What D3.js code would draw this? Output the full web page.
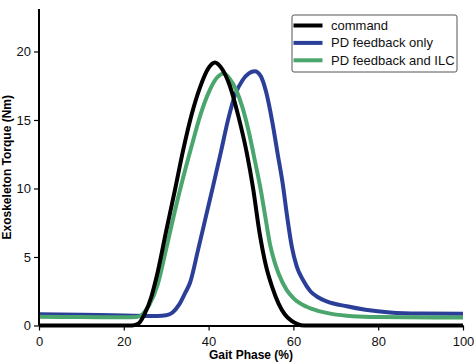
<!DOCTYPE html>
<html>
<head>
<meta charset="utf-8">
<script src="https://cdn.jsdelivr.net/npm/d3@7"></script>
<style>
  body { margin: 0; background: #fff; }
  text { font-family: "Liberation Sans", Arial, sans-serif; }
</style>
</head>
<body>
<svg id="chart" width="474" height="362"></svg>
<script>
// values: [gait phase %, torque Nm]
const command = [[0,0],[22,0],[23.5,0.15],[25,0.9],[26.5,2.1],[28,3.9],[30,6.9],[32,9.8],[34,12.8],[36,15.4],[38,17.4],[40,18.8],[41.5,19.2],[43,18.8],[45,17.5],[47,15.3],[49,12.6],[50.5,10.0],[52,6.8],[53.5,4.4],[55,2.8],[56.5,1.6],[58,0.8],[59.5,0.35],[61,0.1],[62.5,0],[100,0]];
const pdOnly = [[0,0.83],[10,0.78],[20,0.73],[28,0.7],[30,0.75],[31.5,0.95],[33,1.5],[34.5,2.4],[35.6,3.1],[37.5,5.5],[39.4,8.0],[41,10.1],[43,12.8],[44.5,14.9],[46.2,16.8],[48,17.9],[49.5,18.4],[50.9,18.55],[52.3,18.2],[53.6,17.0],[55,14.9],[56.3,12.5],[57.5,10.3],[58.5,8.0],[59.6,5.8],[60.8,4.3],[62.3,3.3],[64,2.5],[65.6,2.1],[68,1.75],[72.6,1.4],[77,1.15],[82.8,0.95],[90,0.87],[100,0.85]];
const pdIlc = [[0,0.63],[10,0.62],[20,0.6],[23,0.62],[24.5,0.85],[26,1.5],[28,3.0],[30,5.6],[32,8.3],[34,10.8],[36,13.1],[38,15.3],[40,17.0],[42,18.1],[43.6,18.4],[45,18.0],[46.5,17.2],[48,15.9],[49.5,14.1],[51,11.9],[52.3,9.9],[53.5,7.7],[54.5,5.9],[55.5,4.7],[56.5,3.8],[58.4,2.6],[60,2.0],[63,1.38],[66,1.05],[69,0.85],[74,0.68],[80,0.62],[100,0.58]];

const seriesNames = ["command", "PD feedback only", "PD feedback and ILC"];
const seriesColors = ["#000000", "#2b3f98", "#4aa66c"];
const xTicks = [0, 20, 40, 60, 80, 100];
const yTicks = [0, 5, 10, 15, 20];

const svg = d3.select("#chart");
const plotLeft = 39, plotRight = 463, plotTop = 9, plotBottom = 325.5;

const x = d3.scaleLinear().domain([0, 100]).range([plotLeft, plotRight]);
const y = d3.scaleLinear().domain([0, 23.1]).range([plotBottom, plotTop]);

const line = d3.line()
    .x(d => x(d[0]))
    .y(d => y(d[1]))
    .curve(d3.curveMonotoneX);

// curves (command drawn last so it sits on top of the baseline)
const allSeries = [pdOnly, pdIlc, command];
const order = [1, 2, 0];
svg.append("g")
    .selectAll("path")
    .data(allSeries)
    .enter().append("path")
    .attr("d", line)
    .attr("fill", "none")
    .attr("stroke", (d, i) => seriesColors[order[i]])
    .attr("stroke-width", 4)
    .attr("stroke-linejoin", "round");

// axes
const xAxis = svg.append("g")
    .attr("transform", `translate(0,${plotBottom})`)
    .call(d3.axisBottom(x).tickValues(xTicks).tickSize(5).tickSizeOuter(0));
const yAxis = svg.append("g")
    .attr("transform", `translate(${plotLeft},0)`)
    .call(d3.axisLeft(y).tickValues(yTicks).tickSize(5).tickSizeOuter(0));

[xAxis, yAxis].forEach(a => {
    a.select(".domain").attr("stroke", "#000").attr("stroke-width", 2);
    a.selectAll(".tick line").attr("stroke", "#000").attr("stroke-width", 1.2);
    a.selectAll(".tick text")
        .attr("fill", "#111")
        .style("font-size", "13px")
        .style("font-family", "'Liberation Sans', Arial, sans-serif");
});
// extend y axis line to the top
yAxis.select(".domain").attr("d", `M0,${plotBottom}V${plotTop}`);
xAxis.selectAll(".tick text").attr("dy", "0.95em");

// axis titles
svg.append("text")
    .attr("x", (plotLeft + plotRight) / 2)
    .attr("y", 359)
    .attr("text-anchor", "middle")
    .style("font-size", "12px")
    .style("font-weight", "bold")
    .text("Gait Phase (%)");

svg.append("text")
    .attr("transform", `translate(11,${(plotTop + plotBottom) / 2}) rotate(-90)`)
    .attr("text-anchor", "middle")
    .style("font-size", "12px")
    .style("font-weight", "bold")
    .text("Exoskeleton Torque (Nm)");

// legend
const legend = svg.append("g");
legend.append("rect")
    .attr("x", 292).attr("y", 15)
    .attr("width", 165).attr("height", 57)
    .attr("rx", 2)
    .attr("fill", "#fff")
    .attr("stroke", "#555")
    .attr("stroke-width", 1);

const rows = legend.selectAll("g.row")
    .data(seriesNames)
    .enter().append("g")
    .attr("class", "row")
    .attr("transform", (d, i) => `translate(0,${25.5 + i * 17.4})`);
rows.append("line")
    .attr("x1", 293.5).attr("x2", 322.5)
    .attr("stroke", (d, i) => seriesColors[i])
    .attr("stroke-width", 4);
rows.append("text")
    .attr("x", 331)
    .attr("dy", "0.35em")
    .style("font-size", "13px")
    .attr("fill", "#111")
    .text(d => d);
</script>
</body>
</html>
